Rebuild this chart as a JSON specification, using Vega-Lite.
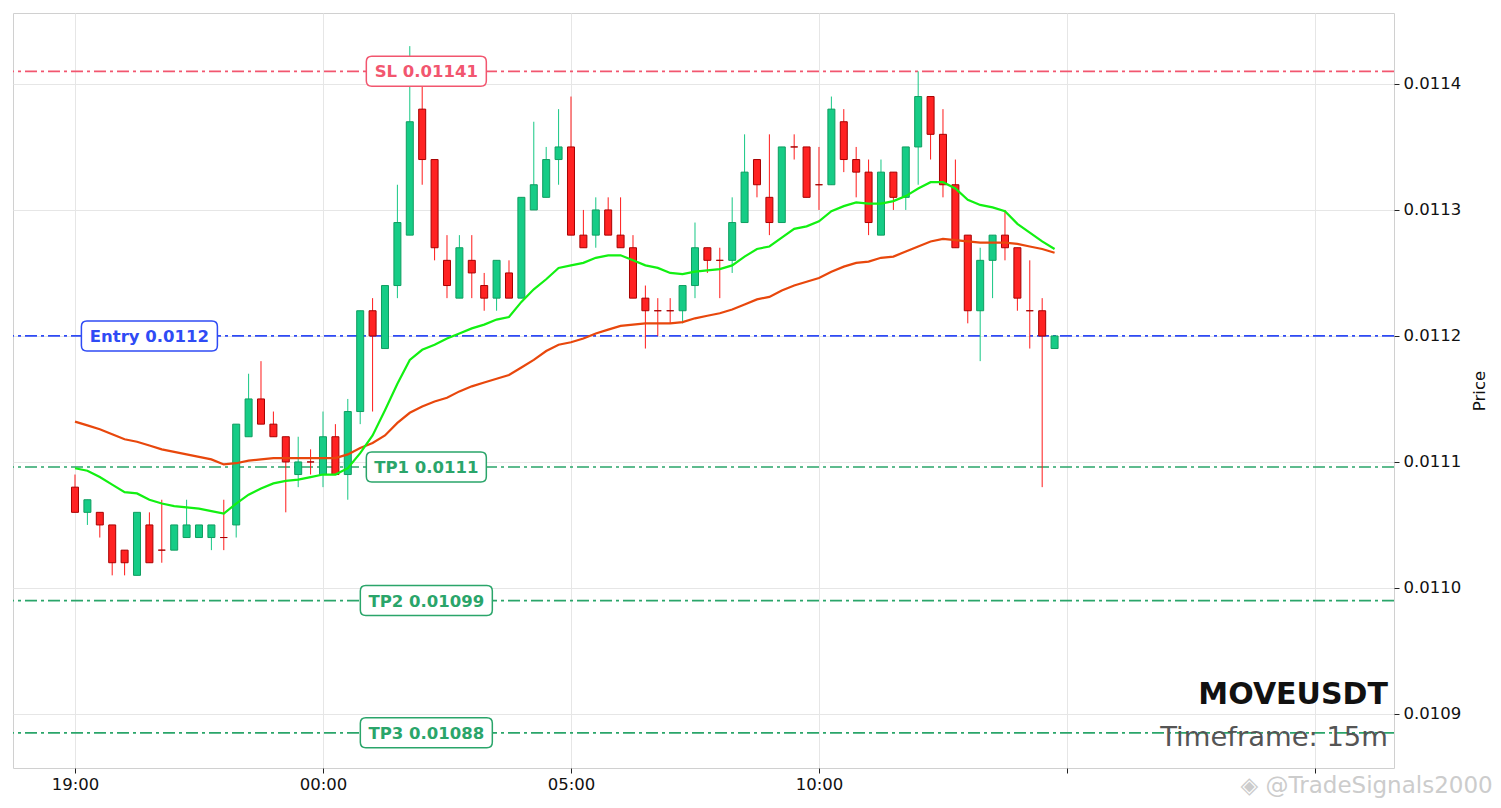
{
  "$schema": "https://vega.github.io/schema/vega-lite/v6.json",
  "width": 1381,
  "height": 755,
  "autosize": {"type": "none"},
  "padding": {"left": 13, "top": 13, "right": 107, "bottom": 40},
  "background": "white",
  "datasets": {
    "candles": [
      {"t": "2024-01-01T19:00Z", "o": 0.01108, "h": 0.01109, "l": 0.01106, "c": 0.01106, "g": 0.011095, "r": 0.011132},
      {"t": "2024-01-01T19:15Z", "o": 0.01106, "h": 0.01107, "l": 0.01105, "c": 0.01107, "g": 0.011093, "r": 0.011129},
      {"t": "2024-01-01T19:30Z", "o": 0.01106, "h": 0.01106, "l": 0.01104, "c": 0.01105, "g": 0.011088, "r": 0.011126},
      {"t": "2024-01-01T19:45Z", "o": 0.01105, "h": 0.01105, "l": 0.01101, "c": 0.01102, "g": 0.011082, "r": 0.011122},
      {"t": "2024-01-01T20:00Z", "o": 0.01103, "h": 0.01103, "l": 0.01101, "c": 0.01102, "g": 0.011076, "r": 0.011118},
      {"t": "2024-01-01T20:15Z", "o": 0.01101, "h": 0.01106, "l": 0.01101, "c": 0.01106, "g": 0.011075, "r": 0.011116},
      {"t": "2024-01-01T20:30Z", "o": 0.01105, "h": 0.01106, "l": 0.01102, "c": 0.01102, "g": 0.011070, "r": 0.011113},
      {"t": "2024-01-01T20:45Z", "o": 0.01103, "h": 0.01107, "l": 0.01102, "c": 0.01103, "g": 0.011067, "r": 0.011110},
      {"t": "2024-01-01T21:00Z", "o": 0.01103, "h": 0.01105, "l": 0.01103, "c": 0.01105, "g": 0.011065, "r": 0.011108},
      {"t": "2024-01-01T21:15Z", "o": 0.01104, "h": 0.01107, "l": 0.01104, "c": 0.01105, "g": 0.011064, "r": 0.011106},
      {"t": "2024-01-01T21:30Z", "o": 0.01104, "h": 0.01105, "l": 0.01104, "c": 0.01105, "g": 0.011063, "r": 0.011104},
      {"t": "2024-01-01T21:45Z", "o": 0.01104, "h": 0.01105, "l": 0.01103, "c": 0.01105, "g": 0.011061, "r": 0.011102},
      {"t": "2024-01-01T22:00Z", "o": 0.01104, "h": 0.01107, "l": 0.01103, "c": 0.01104, "g": 0.011059, "r": 0.011098},
      {"t": "2024-01-01T22:15Z", "o": 0.01105, "h": 0.01113, "l": 0.01104, "c": 0.01113, "g": 0.011067, "r": 0.011099},
      {"t": "2024-01-01T22:30Z", "o": 0.01112, "h": 0.01117, "l": 0.01112, "c": 0.01115, "g": 0.011074, "r": 0.011101},
      {"t": "2024-01-01T22:45Z", "o": 0.01115, "h": 0.01118, "l": 0.01113, "c": 0.01113, "g": 0.011079, "r": 0.011102},
      {"t": "2024-01-01T23:00Z", "o": 0.01113, "h": 0.01114, "l": 0.01112, "c": 0.01112, "g": 0.011083, "r": 0.011103},
      {"t": "2024-01-01T23:15Z", "o": 0.01112, "h": 0.01112, "l": 0.01106, "c": 0.01110, "g": 0.011085, "r": 0.011103},
      {"t": "2024-01-01T23:30Z", "o": 0.01109, "h": 0.01112, "l": 0.01108, "c": 0.01110, "g": 0.011086, "r": 0.011103},
      {"t": "2024-01-01T23:45Z", "o": 0.01110, "h": 0.01111, "l": 0.01109, "c": 0.01110, "g": 0.011088, "r": 0.011103},
      {"t": "2024-01-02T00:00Z", "o": 0.01109, "h": 0.01114, "l": 0.01108, "c": 0.01112, "g": 0.011090, "r": 0.011103},
      {"t": "2024-01-02T00:15Z", "o": 0.01112, "h": 0.01113, "l": 0.01109, "c": 0.01109, "g": 0.011090, "r": 0.011103},
      {"t": "2024-01-02T00:30Z", "o": 0.01109, "h": 0.01115, "l": 0.01107, "c": 0.01114, "g": 0.011095, "r": 0.011106},
      {"t": "2024-01-02T00:45Z", "o": 0.01114, "h": 0.01122, "l": 0.01113, "c": 0.01122, "g": 0.011107, "r": 0.011111},
      {"t": "2024-01-02T01:00Z", "o": 0.01122, "h": 0.01123, "l": 0.01114, "c": 0.01120, "g": 0.011121, "r": 0.011115},
      {"t": "2024-01-02T01:15Z", "o": 0.01119, "h": 0.01124, "l": 0.01119, "c": 0.01124, "g": 0.011141, "r": 0.011121},
      {"t": "2024-01-02T01:30Z", "o": 0.01124, "h": 0.01132, "l": 0.01123, "c": 0.01129, "g": 0.011162, "r": 0.011131},
      {"t": "2024-01-02T01:45Z", "o": 0.01128, "h": 0.01143, "l": 0.01128, "c": 0.01137, "g": 0.011181, "r": 0.011139},
      {"t": "2024-01-02T02:00Z", "o": 0.01138, "h": 0.01140, "l": 0.01132, "c": 0.01134, "g": 0.011189, "r": 0.011144},
      {"t": "2024-01-02T02:15Z", "o": 0.01134, "h": 0.01134, "l": 0.01126, "c": 0.01127, "g": 0.011193, "r": 0.011148},
      {"t": "2024-01-02T02:30Z", "o": 0.01126, "h": 0.01128, "l": 0.01123, "c": 0.01124, "g": 0.011198, "r": 0.011151},
      {"t": "2024-01-02T02:45Z", "o": 0.01123, "h": 0.01128, "l": 0.01123, "c": 0.01127, "g": 0.011202, "r": 0.011156},
      {"t": "2024-01-02T03:00Z", "o": 0.01126, "h": 0.01128, "l": 0.01123, "c": 0.01125, "g": 0.011206, "r": 0.011160},
      {"t": "2024-01-02T03:15Z", "o": 0.01124, "h": 0.01125, "l": 0.01122, "c": 0.01123, "g": 0.011209, "r": 0.011163},
      {"t": "2024-01-02T03:30Z", "o": 0.01123, "h": 0.01126, "l": 0.01122, "c": 0.01126, "g": 0.011213, "r": 0.011166},
      {"t": "2024-01-02T03:45Z", "o": 0.01125, "h": 0.01126, "l": 0.01123, "c": 0.01123, "g": 0.011215, "r": 0.011169},
      {"t": "2024-01-02T04:00Z", "o": 0.01123, "h": 0.01131, "l": 0.01123, "c": 0.01131, "g": 0.011227, "r": 0.011175},
      {"t": "2024-01-02T04:15Z", "o": 0.01130, "h": 0.01137, "l": 0.01130, "c": 0.01132, "g": 0.011237, "r": 0.011181},
      {"t": "2024-01-02T04:30Z", "o": 0.01131, "h": 0.01135, "l": 0.01131, "c": 0.01134, "g": 0.011245, "r": 0.011188},
      {"t": "2024-01-02T04:45Z", "o": 0.01134, "h": 0.01138, "l": 0.01132, "c": 0.01135, "g": 0.011254, "r": 0.011193},
      {"t": "2024-01-02T05:00Z", "o": 0.01135, "h": 0.01139, "l": 0.01128, "c": 0.01128, "g": 0.011256, "r": 0.011195},
      {"t": "2024-01-02T05:15Z", "o": 0.01128, "h": 0.01130, "l": 0.01127, "c": 0.01127, "g": 0.011258, "r": 0.011198},
      {"t": "2024-01-02T05:30Z", "o": 0.01128, "h": 0.01131, "l": 0.01127, "c": 0.01130, "g": 0.011262, "r": 0.011202},
      {"t": "2024-01-02T05:45Z", "o": 0.01130, "h": 0.01131, "l": 0.01128, "c": 0.01128, "g": 0.011264, "r": 0.011205},
      {"t": "2024-01-02T06:00Z", "o": 0.01128, "h": 0.01131, "l": 0.01127, "c": 0.01127, "g": 0.011264, "r": 0.011208},
      {"t": "2024-01-02T06:15Z", "o": 0.01127, "h": 0.01128, "l": 0.01123, "c": 0.01123, "g": 0.011260, "r": 0.011209},
      {"t": "2024-01-02T06:30Z", "o": 0.01123, "h": 0.01124, "l": 0.01119, "c": 0.01122, "g": 0.011256, "r": 0.011210},
      {"t": "2024-01-02T06:45Z", "o": 0.01122, "h": 0.01123, "l": 0.01120, "c": 0.01122, "g": 0.011254, "r": 0.011210},
      {"t": "2024-01-02T07:00Z", "o": 0.01122, "h": 0.01123, "l": 0.01121, "c": 0.01122, "g": 0.011250, "r": 0.011210},
      {"t": "2024-01-02T07:15Z", "o": 0.01122, "h": 0.01124, "l": 0.01121, "c": 0.01124, "g": 0.011249, "r": 0.011211},
      {"t": "2024-01-02T07:30Z", "o": 0.01124, "h": 0.01129, "l": 0.01123, "c": 0.01127, "g": 0.011251, "r": 0.011214},
      {"t": "2024-01-02T07:45Z", "o": 0.01127, "h": 0.01127, "l": 0.01125, "c": 0.01126, "g": 0.011252, "r": 0.011216},
      {"t": "2024-01-02T08:00Z", "o": 0.01126, "h": 0.01127, "l": 0.01123, "c": 0.01126, "g": 0.011253, "r": 0.011218},
      {"t": "2024-01-02T08:15Z", "o": 0.01126, "h": 0.01131, "l": 0.01125, "c": 0.01129, "g": 0.011256, "r": 0.011221},
      {"t": "2024-01-02T08:30Z", "o": 0.01129, "h": 0.01136, "l": 0.01129, "c": 0.01133, "g": 0.011263, "r": 0.011225},
      {"t": "2024-01-02T08:45Z", "o": 0.01134, "h": 0.01134, "l": 0.01131, "c": 0.01132, "g": 0.011269, "r": 0.011229},
      {"t": "2024-01-02T09:00Z", "o": 0.01131, "h": 0.01136, "l": 0.01128, "c": 0.01129, "g": 0.011271, "r": 0.011231},
      {"t": "2024-01-02T09:15Z", "o": 0.01129, "h": 0.01135, "l": 0.01129, "c": 0.01135, "g": 0.011278, "r": 0.011236},
      {"t": "2024-01-02T09:30Z", "o": 0.01135, "h": 0.01136, "l": 0.01134, "c": 0.01135, "g": 0.011285, "r": 0.011240},
      {"t": "2024-01-02T09:45Z", "o": 0.01135, "h": 0.01135, "l": 0.01131, "c": 0.01131, "g": 0.011287, "r": 0.011243},
      {"t": "2024-01-02T10:00Z", "o": 0.01132, "h": 0.01135, "l": 0.01130, "c": 0.01132, "g": 0.011291, "r": 0.011246},
      {"t": "2024-01-02T10:15Z", "o": 0.01132, "h": 0.01139, "l": 0.01132, "c": 0.01138, "g": 0.011299, "r": 0.011251},
      {"t": "2024-01-02T10:30Z", "o": 0.01137, "h": 0.01138, "l": 0.01133, "c": 0.01134, "g": 0.011303, "r": 0.011255},
      {"t": "2024-01-02T10:45Z", "o": 0.01134, "h": 0.01135, "l": 0.01131, "c": 0.01133, "g": 0.011306, "r": 0.011258},
      {"t": "2024-01-02T11:00Z", "o": 0.01133, "h": 0.01134, "l": 0.01128, "c": 0.01129, "g": 0.011305, "r": 0.011259},
      {"t": "2024-01-02T11:15Z", "o": 0.01128, "h": 0.01134, "l": 0.01128, "c": 0.01133, "g": 0.011305, "r": 0.011262},
      {"t": "2024-01-02T11:30Z", "o": 0.01133, "h": 0.01133, "l": 0.01130, "c": 0.01131, "g": 0.011307, "r": 0.011263},
      {"t": "2024-01-02T11:45Z", "o": 0.01131, "h": 0.01135, "l": 0.01130, "c": 0.01135, "g": 0.011311, "r": 0.011267},
      {"t": "2024-01-02T12:00Z", "o": 0.01135, "h": 0.01141, "l": 0.01132, "c": 0.01139, "g": 0.011317, "r": 0.011271},
      {"t": "2024-01-02T12:15Z", "o": 0.01139, "h": 0.01139, "l": 0.01134, "c": 0.01136, "g": 0.011322, "r": 0.011275},
      {"t": "2024-01-02T12:30Z", "o": 0.01136, "h": 0.01138, "l": 0.01131, "c": 0.01132, "g": 0.011322, "r": 0.011277},
      {"t": "2024-01-02T12:45Z", "o": 0.01132, "h": 0.01134, "l": 0.01127, "c": 0.01127, "g": 0.011317, "r": 0.011276},
      {"t": "2024-01-02T13:00Z", "o": 0.01128, "h": 0.01128, "l": 0.01121, "c": 0.01122, "g": 0.011308, "r": 0.011275},
      {"t": "2024-01-02T13:15Z", "o": 0.01122, "h": 0.01127, "l": 0.01118, "c": 0.01126, "g": 0.011304, "r": 0.011274},
      {"t": "2024-01-02T13:30Z", "o": 0.01126, "h": 0.01128, "l": 0.01123, "c": 0.01128, "g": 0.011302, "r": 0.011274},
      {"t": "2024-01-02T13:45Z", "o": 0.01128, "h": 0.01130, "l": 0.01126, "c": 0.01127, "g": 0.011299, "r": 0.011274},
      {"t": "2024-01-02T14:00Z", "o": 0.01127, "h": 0.01127, "l": 0.01122, "c": 0.01123, "g": 0.011289, "r": 0.011273},
      {"t": "2024-01-02T14:15Z", "o": 0.01122, "h": 0.01126, "l": 0.01119, "c": 0.01122, "g": 0.011282, "r": 0.011271},
      {"t": "2024-01-02T14:30Z", "o": 0.01122, "h": 0.01123, "l": 0.01108, "c": 0.01120, "g": 0.011275, "r": 0.011269},
      {"t": "2024-01-02T14:45Z", "o": 0.01119, "h": 0.01120, "l": 0.01119, "c": 0.01120, "g": 0.011269, "r": 0.011266}
    ],
    "levels": [
      {"kind": "SL", "label": "SL 0.01141", "price": 0.01141, "t": "2024-01-02T02:05Z"},
      {"kind": "Entry", "label": "Entry 0.0112", "price": 0.0112, "t": "2024-01-01T20:30Z"},
      {"kind": "TP", "label": "TP1 0.0111", "price": 0.011096, "t": "2024-01-02T02:05Z"},
      {"kind": "TP", "label": "TP2 0.01099", "price": 0.01099, "t": "2024-01-02T02:05Z"},
      {"kind": "TP", "label": "TP3 0.01088", "price": 0.010885, "t": "2024-01-02T02:05Z"}
    ]
  },
  "layer": [
    {
      "data": {"name": "levels"},
      "mark": {"type": "rule", "strokeWidth": 1.7, "strokeDash": [12, 4, 3, 4]},
      "encoding": {
        "y": {
          "field": "price",
          "type": "quantitative",
          "title": "Price",
          "scale": {"domain": [0.0108571, 0.0114563], "zero": false, "nice": false},
          "axis": {
            "orient": "right",
            "values": [0.0109, 0.011, 0.0111, 0.0112, 0.0113, 0.0114],
            "format": ".4f",
            "titleAngle": 270,
            "titlePadding": 27,
            "labelPadding": 4
          }
        },
        "color": {
          "field": "kind",
          "type": "nominal",
          "scale": {"domain": ["SL", "Entry", "TP"], "range": ["#f2566f", "#2f4bf5", "#2aa56a"]},
          "legend": null
        }
      }
    },
    {
      "data": {"name": "candles"},
      "mark": {"type": "rule", "strokeWidth": 1},
      "encoding": {
        "x": {
          "field": "t",
          "type": "temporal",
          "title": null,
          "scale": {
            "type": "utc",
            "padding": 0,
            "domain": [
              {"year": 2024, "month": 1, "date": 1, "hours": 17, "minutes": 45, "utc": true},
              {"year": 2024, "month": 1, "date": 2, "hours": 21, "minutes": 35, "seconds": 36, "utc": true}
            ]
          },
          "axis": {
            "values": [
              {"year": 2024, "month": 1, "date": 1, "hours": 19, "utc": true},
              {"year": 2024, "month": 1, "date": 2, "hours": 0, "utc": true},
              {"year": 2024, "month": 1, "date": 2, "hours": 5, "utc": true},
              {"year": 2024, "month": 1, "date": 2, "hours": 10, "utc": true},
              {"year": 2024, "month": 1, "date": 2, "hours": 15, "utc": true},
              {"year": 2024, "month": 1, "date": 2, "hours": 20, "utc": true}
            ],
            "labelExpr": "utchours(datum.value) == 15 || utchours(datum.value) == 20 ? '' : utcFormat(datum.value, '%H:%M')",
            "labelPadding": 3
          }
        },
        "y": {"field": "l", "type": "quantitative", "title": "Price"},
        "y2": {"field": "h"},
        "color": {"condition": {"test": "datum.c > datum.o", "value": "#16c784"}, "value": "#ff1a1a"}
      }
    },
    {
      "data": {"name": "candles"},
      "mark": {"type": "bar", "size": 7, "strokeWidth": 1},
      "encoding": {
        "x": {"field": "t", "type": "temporal", "title": null},
        "y": {"field": "o", "type": "quantitative", "title": "Price"},
        "y2": {"field": "c"},
        "fill": {"condition": {"test": "datum.c > datum.o", "value": "#16cc86"}, "value": "#ff2222"},
        "stroke": {"condition": {"test": "datum.c > datum.o", "value": "#0f9e60"}, "value": "#a80000"}
      }
    },
    {
      "data": {"name": "candles"},
      "mark": {"type": "line", "color": "#e8470c", "strokeWidth": 2.2},
      "encoding": {
        "x": {"field": "t", "type": "temporal", "title": null},
        "y": {"field": "r", "type": "quantitative", "title": "Price"}
      }
    },
    {
      "data": {"name": "candles"},
      "mark": {"type": "line", "color": "#12f012", "strokeWidth": 2.2},
      "encoding": {
        "x": {"field": "t", "type": "temporal", "title": null},
        "y": {"field": "g", "type": "quantitative", "title": "Price"}
      }
    },
    {
      "data": {"name": "levels"},
      "mark": {"type": "point", "size": 10000, "opacity": 1, "strokeWidth": 1.5},
      "encoding": {
        "x": {"field": "t", "type": "temporal", "title": null},
        "y": {"field": "price", "type": "quantitative", "title": "Price"},
        "fill": {"value": "white"},
        "stroke": {
          "field": "kind",
          "type": "nominal",
          "scale": {"domain": ["SL", "Entry", "TP"], "range": ["#f2566f", "#2f4bf5", "#2aa56a"]},
          "legend": null
        },
        "shape": {
          "field": "label",
          "type": "nominal",
          "scale": {
            "domain": ["SL 0.01141", "Entry 0.0112", "TP1 0.0111", "TP2 0.01099", "TP3 0.01088"],
            "range": [
              "M-1.09,-0.3L1.09,-0.3Q1.2,-0.3 1.2,-0.19L1.2,0.19Q1.2,0.3 1.09,0.3L-1.09,0.3Q-1.2,0.3 -1.2,0.19L-1.2,-0.19Q-1.2,-0.3 -1.09,-0.3Z",
              "M-1.25,-0.3L1.25,-0.3Q1.36,-0.3 1.36,-0.19L1.36,0.19Q1.36,0.3 1.25,0.3L-1.25,0.3Q-1.36,0.3 -1.36,0.19L-1.36,-0.19Q-1.36,-0.3 -1.25,-0.3Z",
              "M-1.09,-0.3L1.09,-0.3Q1.2,-0.3 1.2,-0.19L1.2,0.19Q1.2,0.3 1.09,0.3L-1.09,0.3Q-1.2,0.3 -1.2,0.19L-1.2,-0.19Q-1.2,-0.3 -1.09,-0.3Z",
              "M-1.21,-0.3L1.21,-0.3Q1.32,-0.3 1.32,-0.19L1.32,0.19Q1.32,0.3 1.21,0.3L-1.21,0.3Q-1.32,0.3 -1.32,0.19L-1.32,-0.19Q-1.32,-0.3 -1.21,-0.3Z",
              "M-1.21,-0.3L1.21,-0.3Q1.32,-0.3 1.32,-0.19L1.32,0.19Q1.32,0.3 1.21,0.3L-1.21,0.3Q-1.32,0.3 -1.32,0.19L-1.32,-0.19Q-1.32,-0.3 -1.21,-0.3Z"
            ]
          },
          "legend": null
        }
      }
    },
    {
      "data": {"name": "levels"},
      "mark": {"type": "text", "fontSize": 16.5, "fontWeight": "bold", "baseline": "middle", "align": "center", "dy": 1},
      "encoding": {
        "x": {"field": "t", "type": "temporal", "title": null},
        "y": {"field": "price", "type": "quantitative", "title": "Price"},
        "text": {"field": "label"},
        "color": {
          "field": "kind",
          "type": "nominal",
          "scale": {"domain": ["SL", "Entry", "TP"], "range": ["#f2566f", "#2f4bf5", "#2aa56a"]},
          "legend": null
        }
      }
    },
    {
      "data": {"values": [{}]},
      "mark": {"type": "text", "text": "MOVEUSDT", "fontSize": 30, "fontWeight": "bold", "align": "right", "baseline": "alphabetic", "color": "#111111"},
      "encoding": {
        "x": {"datum": {"year": 2024, "month": 1, "date": 2, "hours": 21, "minutes": 28, "seconds": 18, "utc": true}, "type": "temporal"},
        "y": {"datum": 0.0109079, "type": "quantitative"}
      }
    },
    {
      "data": {"values": [{}]},
      "mark": {"type": "text", "text": "Timeframe: 15m", "fontSize": 27.4, "align": "right", "baseline": "alphabetic", "color": "#555555"},
      "encoding": {
        "x": {"datum": {"year": 2024, "month": 1, "date": 2, "hours": 21, "minutes": 28, "seconds": 18, "utc": true}, "type": "temporal"},
        "y": {"datum": 0.0108746, "type": "quantitative"}
      }
    },
    {
      "data": {"values": [{}]},
      "mark": {"type": "text", "text": "◈ @TradeSignals2000", "fontSize": 23, "align": "right", "baseline": "alphabetic", "color": "#cccccc"},
      "encoding": {
        "x": {"datum": {"year": 2024, "month": 1, "date": 2, "hours": 23, "minutes": 35, "utc": true}, "type": "temporal"},
        "y": {"datum": 0.0108373, "type": "quantitative"}
      }
    }
  ],
  "config": {
    "font": "DejaVu Sans",
    "view": {"stroke": "#d0d0d0", "strokeWidth": 1},
    "axis": {
      "labelFont": "DejaVu Sans",
      "labelFontSize": 16.5,
      "labelColor": "#111111",
      "titleFont": "DejaVu Sans",
      "titleFontSize": 16.5,
      "titleFontWeight": "normal",
      "titleColor": "#111111",
      "tickColor": "#222222",
      "tickSize": 5,
      "domain": false,
      "gridColor": "#e6e6e6",
      "gridWidth": 1
    }
  }
}
